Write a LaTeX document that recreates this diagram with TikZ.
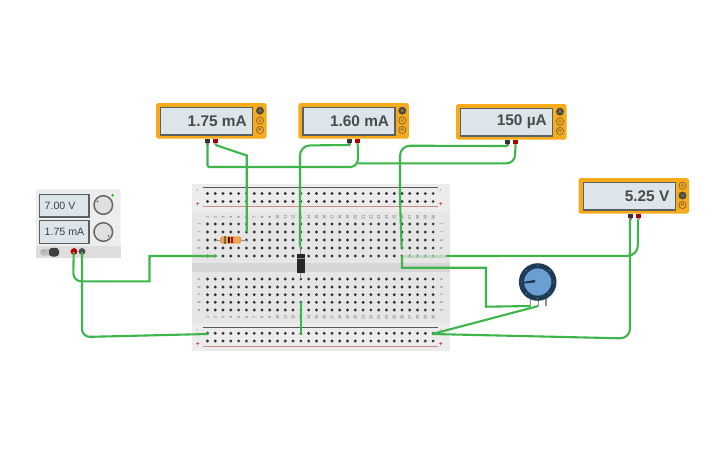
\documentclass[tikz,border=0pt]{standalone}
\usepackage{fontspec}
\setmainfont{Liberation Sans}
\definecolor{wiregreen}{HTML}{3DB54A}
\definecolor{meterorange}{HTML}{F7AB1B}
\definecolor{screenfill}{HTML}{DCE5E9}
\definecolor{screenedge}{HTML}{5B6063}
\definecolor{readout}{HTML}{4A4A4A}
\definecolor{boardbase}{HTML}{E6E6E6}
\definecolor{boardpower}{HTML}{ECECEC}
\definecolor{boardchannel}{HTML}{D6D6D6}
\definecolor{rail}{HTML}{CF8A8A}
\definecolor{potdark}{HTML}{1F3A54}
\definecolor{potblue}{HTML}{6B9ED2}
\tikzset{
  x=1pt,y=-1pt,
  wire/.style={draw=wiregreen,line width=2.1pt},
  sharpwire/.style={draw=wiregreen,line width=2.1pt,line join=miter},
  fadedwire/.style={draw=wiregreen!30!boardbase,line width=3pt,opacity=.8},
  meterbody/.style={fill=meterorange,rounded corners=2.5pt,draw=none},
  screenbox/.style={fill=screenfill,draw=screenedge,line width=1.4pt},
  readouttext/.style={font=\bfseries\fontsize{15.4}{16}\selectfont,text=readout,anchor=east,inner sep=0pt},
  psutext/.style={font=\fontsize{10.6}{12}\selectfont,text=readout!85!black,anchor=west,inner sep=0pt},
  btn/.style={circle,minimum size=7.2pt,inner sep=0pt,line width=.6pt,font=\fontsize{4.5}{5}\selectfont},
  btnon/.style={btn,fill=readout,draw=readout,text=meterorange},
  btnoff/.style={btn,fill=meterorange,draw=readout!80!meterorange,text=readout},
  hole/.style={fill=black!80,draw=none},
  tiny/.style={font=\fontsize{4}{4}\selectfont,text=black!60,inner sep=0pt},
  knob/.style={fill=black!12,draw=black!60,line width=1.5pt},
}
% #1 name, #2 x, #3 y, #4 text, #5/#6/#7 button styles
\newcommand{\metermodel}[7]{%
  \fill[meterbody] (#2,#3) rectangle ++(110.5,35.7);
  \draw[screenbox] (#2+4.7,#3+4.7) rectangle ++(92,27.3);
  \node[readouttext] (#1val) at (#2+91,#3+18) {#4};
  \node[#5] (#1a) at (#2+104,#3+7.7) {A};
  \node[#6] (#1v) at (#2+104,#3+17.5) {V};
  \node[#7] (#1r) at (#2+104,#3+27) {R};
  \fill[black!80] (#2+49,#3+35.7) rectangle ++(5,4);
  \fill[black!50] (#2+50,#3+39.7) rectangle ++(3,2.5);
  \fill[red!65!black] (#2+57,#3+35.7) rectangle ++(5,4);
  \fill[black!35] (#2+58,#3+39.7) rectangle ++(3,2.5);
  \coordinate (#1neg) at (#2+51.5,#3+42);
  \coordinate (#1pos) at (#2+59.5,#3+42);
}
\begin{document}
\begin{tikzpicture}
\useasboundingbox (0,0) rectangle (725,453);
\fill[white] (0,0) rectangle (725,453);

% ---- breadboard
\fill[boardbase] (192,184) rectangle (450,351);
\fill[boardpower] (192,184) rectangle (450,212);
\fill[boardpower] (192,323) rectangle (450,351);
\fill[boardchannel] (192,263) rectangle (450,272);
\draw[black!65,line width=1pt] (203,187.5) -- (438,187.5);
\draw[rail,line width=1.2pt] (203,206.7) -- (438,206.7);
\draw[black!65,line width=1pt] (203,327.7) -- (438,327.7);
\draw[rail,line width=1.2pt] (203,346.7) -- (438,346.7);
\foreach \i in {0,...,29} {
  \pgfmathsetmacro{\cx}{207.5+7.78*\i}
  \pgfmathtruncatemacro{\num}{\i+1}
  \foreach \ry in {193.5,201.5,224,232,240,248,256,279,287,294.7,302.3,310,333.3,341}
    \fill[hole] (\cx,\ry) circle (1.6);
  \node[tiny,rotate=90] at (\cx,217.7) {\num};
  \node[tiny,rotate=90] at (\cx,317.3) {\num};
}
\foreach \ry/\lab in {224/j,232/i,240/h,248/g,256/f,279/e,287/d,294.7/c,302.3/b,310/a} {
  \node[tiny,rotate=90] at (199,\ry) {\lab};
  \node[tiny,rotate=90] at (441.5,\ry) {\lab};
}
\foreach \px in {198,441} {
  \node[inner sep=0pt,rotate=90,text=black!60,font=\fontsize{7}{7}\selectfont] at (\px,190.5) {-};
  \node[inner sep=0pt,text=red!70!black,font=\fontsize{7}{7}\selectfont] at (\px,204.5) {+};
  \node[inner sep=0pt,rotate=90,text=black!60,font=\fontsize{7}{7}\selectfont] at (\px,330.5) {-};
  \node[inner sep=0pt,text=red!70!black,font=\fontsize{7}{7}\selectfont] at (\px,344.5) {+};
}

% ---- resistor
\coordinate (resL) at (215,240);
\coordinate (resR) at (246.7,240);
\draw[black!45,line width=1pt] (resL) -- (resR);
\fill[rounded corners=2.5pt,fill=orange!45!brown!75!white] (220,236.3) rectangle (241.5,243.7);
\fill[brown!75!black] (224,236.3) rectangle (226,243.7);
\fill[black!85] (227.5,236.8) rectangle (229.5,243.2);
\fill[red!85!black] (231,236.8) rectangle (233,243.2);
\fill[yellow!55!brown] (235.5,236.3) rectangle (237,243.7);

% ---- diode
\coordinate (diodeT) at (300.7,247);
\coordinate (diodeB) at (300.7,279);
\draw[black!45,line width=1.3pt] (diodeT) -- (diodeB);
\fill[black!85] (297.3,254) rectangle (304.7,273);
\fill[black!45] (297.3,257.5) rectangle (304.7,258.6);

% ---- meters
\metermodel{ma}{156}{103}{1.75 mA}{btnon}{btnoff}{btnoff}
\metermodel{mb}{298.3}{103}{1.60 mA}{btnon}{btnoff}{btnoff}
\metermodel{mc}{456}{104}{150 µA}{btnon}{btnoff}{btnoff}
\metermodel{md}{578.5}{178}{5.25 V}{btnoff}{btnon}{btnoff}

% ---- power supply
\fill[black!7,rounded corners=1pt] (36,189.3) rectangle (120.7,258);
\fill[black!13] (36,245.7) rectangle (120.7,258);
\draw[screenbox] (39.7,194.3) rectangle (89,217);
\draw[screenbox] (39.7,220.3) rectangle (89,243.3);
\node[psutext] (psuV) at (44.5,205.5) {7.00 V};
\node[psutext] (psuI) at (44.5,232) {1.75 mA};
\draw[knob] (103.3,205) circle (9.3);
\draw[knob] (103.3,232) circle (9.3);
\fill[black!70] (97.5,201.5) circle (.8);
\fill[black!70] (108.5,236) circle (.8);
\fill[green!70!black] (112.7,195.3) circle (1.3);
\fill[black!25,rounded corners=3pt] (40,248.8) rectangle (59,255.5);
\fill[black!75,rounded corners=3.2pt] (49,247.8) rectangle (59,256.5);
\node[inner sep=0pt,text=black!60,font=\fontsize{2.8}{3}\selectfont] (psuOn) at (44,252.2) {on};
\fill[red!70!black] (74,251.5) circle (3.4);
\fill[black!70] (82,251.5) circle (3.4);
\coordinate (psuPos) at (73.7,252);
\coordinate (psuNeg) at (82,252);

% ---- potentiometer
\draw[black!45,line width=1.2pt] (530.7,296) -- (530.7,306) coordinate (potA);
\draw[black!45,line width=1.2pt] (538.3,296) -- (538.3,306) coordinate (potW);
\draw[black!45,line width=1.2pt] (546,296) -- (546,306) coordinate (potB);
\fill[potdark] (537.7,282) circle (18.8);
\fill[potblue] (537.7,282) circle (13.6);
\foreach \a in {0,45,...,315}
  \fill[potblue] (537.7,282) ++(\a:16.2) circle (.6);
\fill[potdark] (535,279.9) -- (522.5,282) -- (522.5,283.6) -- (535,282.5) -- cycle;

% ---- hole coordinates for wire ends
\coordinate (h1) at (246.7,232);
\coordinate (h2) at (300,246.7);
\coordinate (h3) at (401.7,249);
\coordinate (h4) at (402,256);
\coordinate (h4b) at (446,256);
\coordinate (h5) at (216,256);
\coordinate (h6) at (208.3,334);
\coordinate (h7) at (300.7,301.7);
\coordinate (h8) at (300.7,334);
\coordinate (h9) at (432.3,334);

% ---- wires
\draw[wire] (maneg) [rounded corners=2pt] -- (207.5,167) [sharp corners] -- (300,167) [rounded corners=8pt] -- (358,167) -- (mbpos);
\draw[sharpwire] (mapos) -- (246.7,155.5) -- (h1);
\draw[wire,rounded corners=10pt] (mbneg) -- (300,145.5) -- (h2);
\draw[wire,rounded corners=8pt] (mcpos) -- (514.7,163.3) -- (357.5,163.3);
\draw[wire,rounded corners=10pt] (mcneg) -- (400,145.7) -- (400,200) -- (h3);
\draw[fadedwire] (h4) -- (h4b);
\draw[wire,rounded corners=10pt] (mdpos) -- (637.7,255.8) -- (h4b);
\draw[sharpwire] (h4) -- (402,267.7) -- (486,267.7) -- (486,306.7) -- (potA);
\draw[sharpwire] (potW) -- (h9);
\draw[wire,rounded corners=10pt] (mdneg) -- (630,338.5) -- (h9);
\draw[wire] (psuPos) [rounded corners=8pt] -- (73.2,281.3) [sharp corners] -- (149.5,281.3) -- (149.5,256) -- (h5);
\draw[wire,rounded corners=8pt] (psuNeg) -- (82,337) -- (h6);
\draw[sharpwire] (h7) -- (h8);
\end{tikzpicture}
\end{document}
